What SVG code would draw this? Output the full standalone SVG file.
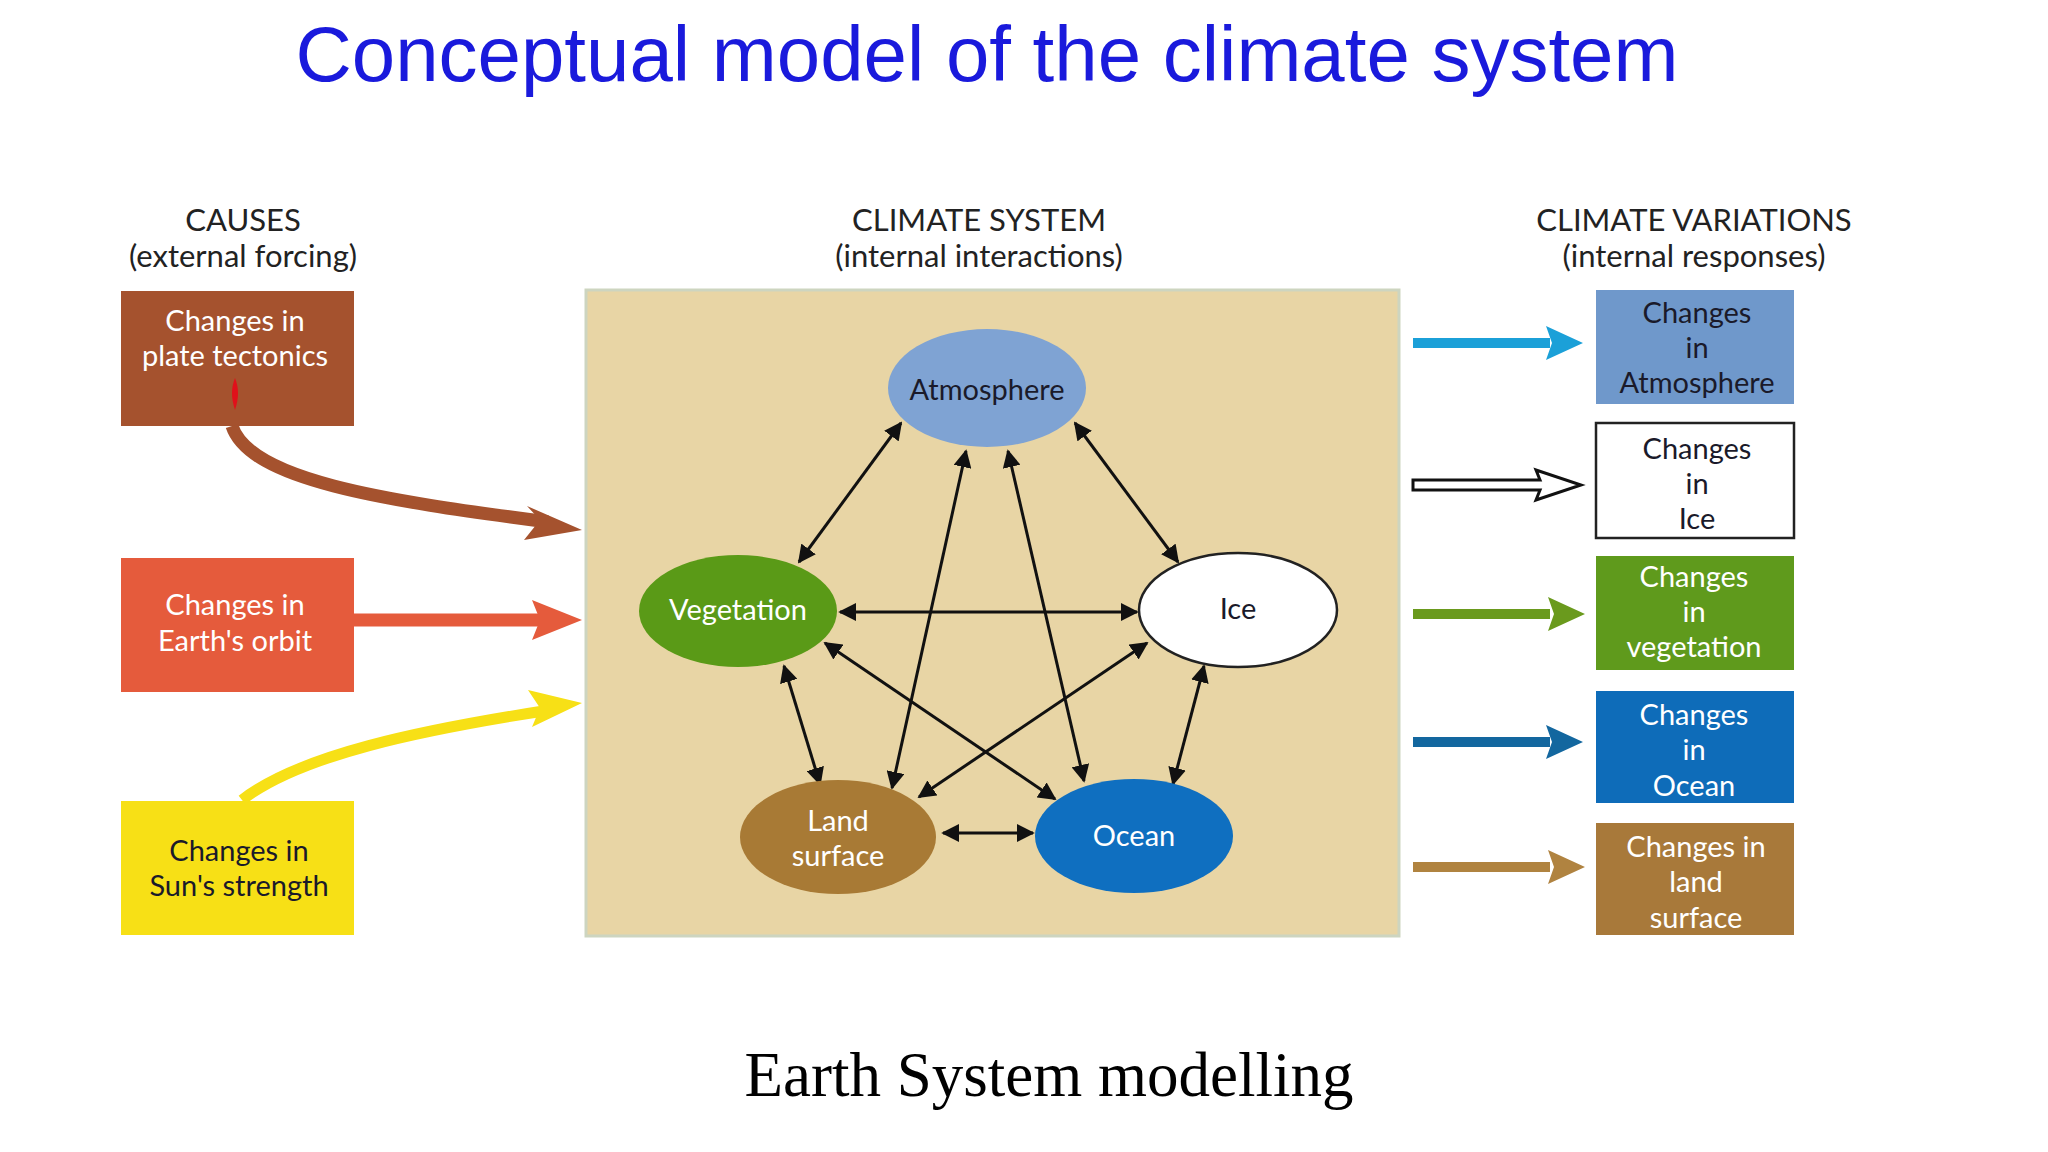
<svg xmlns="http://www.w3.org/2000/svg" width="2048" height="1152" viewBox="0 0 2048 1152">
<style>
.t{font-family:Lato,"Open Sans","Liberation Sans",sans-serif;font-size:29px;text-anchor:middle;dominant-baseline:central}
.h{font-family:Lato,"Open Sans","Liberation Sans",sans-serif;font-size:31px;text-anchor:middle;fill:#222}
.w{fill:#fff}.d{fill:#1a1a2a}
.c{stroke:#111;stroke-width:3;fill:none;marker-start:url(#ah);marker-end:url(#ah)}
</style>
<defs>
<marker id="ah" viewBox="0 0 10 10" refX="9" refY="5" markerWidth="6" markerHeight="6" orient="auto-start-reverse" markerUnits="strokeWidth"><path d="M0,0 L10,5 L0,10 z" fill="#111"/></marker>
</defs>
<rect width="2048" height="1152" fill="#fff"/>
<text x="987" y="81" font-family="Liberation Sans,Arial,sans-serif" font-size="78" fill="#1a1adc" text-anchor="middle">Conceptual model of the climate system</text>
<text class="h" x="243" y="231">CAUSES</text>
<text class="h" x="243" y="267">(external forcing)</text>
<text class="h" x="979" y="231">CLIMATE SYSTEM</text>
<text class="h" x="979" y="267">(internal interactions)</text>
<text class="h" x="1694" y="231">CLIMATE VARIATIONS</text>
<text class="h" x="1694" y="267">(internal responses)</text>

<g id="panel"><rect x="586" y="290" width="813" height="646" fill="#e8d5a5" stroke="#cdd5c0" stroke-width="3"/></g>

<g id="cause-tectonics"><rect x="121" y="291" width="233" height="135" fill="#a5522e"/>
<text class="t w" x="235" y="319">Changes in</text><text class="t w" x="235" y="354">plate tectonics</text>
<path d="M235,378 C231,388 231,398 235,410 C239,398 239,388 235,378 z" fill="#e0101a"/></g>
<g id="cause-orbit"><rect x="121" y="558" width="233" height="134" fill="#e55b3c"/>
<text class="t w" x="235" y="603">Changes in</text><text class="t w" x="235" y="639">Earth's orbit</text></g>
<g id="cause-sun"><rect x="121" y="801" width="233" height="134" fill="#f7e016"/>
<text class="t d" x="239" y="849">Changes in</text><text class="t d" x="239" y="884">Sun's strength</text></g>

<g id="connectors">
<path d="M232,426 C250,480 380,500 548,522" stroke="#a5522e" stroke-width="13" fill="none"/>
<path d="M582,530 L527,506 L540,520 L524,540 z" fill="#a5522e"/>
<path d="M354,620 L548,620" stroke="#e55b3c" stroke-width="13"/>
<path d="M582,620 L532,600 L540,620 L532,640 z" fill="#e55b3c"/>
<path d="M242,800 C300,755 420,730 550,710" stroke="#f7e016" stroke-width="11" fill="none"/>
<path d="M582,703 L528,690 L540,708 L532,727 z" fill="#f7e016"/>

<path class="c" d="M901,423 L799,562"/>
<path class="c" d="M1075,423 L1178,562"/>
<path class="c" d="M966,451 L892,788"/>
<path class="c" d="M1008,451 L1084,781"/>
<path class="c" d="M840,612 L1137,612"/>
<path class="c" d="M825,643 L1055,799"/>
<path class="c" d="M1147,643 L919,797"/>
<path class="c" d="M784,666 L820,784"/>
<path class="c" d="M1204,666 L1173,784"/>
<path class="c" d="M943,833 L1033,833"/>

<path d="M1413,343 L1550,343" stroke="#1ba0d8" stroke-width="10"/><path d="M1583,343 L1546,326 L1552,343 L1546,360 z" fill="#1ba0d8"/>
<path d="M1413,480 L1540,480 L1536,470 L1581,485 L1536,500 L1540,490 L1413,490 z" fill="#fff" stroke="#111" stroke-width="3"/>
<path d="M1413,614 L1550,614" stroke="#6a9a1d" stroke-width="10"/><path d="M1585,614 L1548,597 L1554,614 L1548,631 z" fill="#6a9a1d"/>
<path d="M1413,742 L1550,742" stroke="#13679f" stroke-width="10"/><path d="M1583,742 L1546,725 L1552,742 L1546,759 z" fill="#13679f"/>
<path d="M1413,867 L1550,867" stroke="#b08340" stroke-width="10"/><path d="M1585,867 L1548,850 L1554,867 L1548,884 z" fill="#b08340"/>
</g>

<g id="atmosphere"><ellipse cx="987" cy="388" rx="99" ry="59" fill="#7fa3d3"/><text class="t d" x="987" y="388">Atmosphere</text></g>
<g id="vegetation"><ellipse cx="738" cy="611" rx="99" ry="56" fill="#5a9a17"/><text class="t w" x="738" y="608">Vegetation</text></g>
<g id="ice"><ellipse cx="1238" cy="610" rx="99" ry="57" fill="#fff" stroke="#222" stroke-width="2.5"/><text class="t d" x="1238" y="607">Ice</text></g>
<g id="land"><ellipse cx="838" cy="837" rx="98" ry="57" fill="#a87a35"/><text class="t w" x="838" y="819">Land</text><text class="t w" x="838" y="854">surface</text></g>
<g id="ocean"><ellipse cx="1134" cy="836" rx="99" ry="57" fill="#0f6fc0"/><text class="t w" x="1134" y="834">Ocean</text></g>

<g id="resp-atm"><rect x="1596" y="290" width="198" height="114" fill="#6f98cb"/>
<text class="t d" x="1697" y="311">Changes</text><text class="t d" x="1697" y="346">in</text><text class="t d" x="1697" y="381">Atmosphere</text></g>
<g id="resp-ice"><rect x="1596" y="423" width="198" height="115" fill="#fff" stroke="#222" stroke-width="2.5"/>
<text class="t d" x="1697" y="447">Changes</text><text class="t d" x="1697" y="482">in</text><text class="t d" x="1697" y="517">Ice</text></g>
<g id="resp-veg"><rect x="1596" y="556" width="198" height="114" fill="#5f9a1c"/>
<text class="t w" x="1694" y="575">Changes</text><text class="t w" x="1694" y="610">in</text><text class="t w" x="1694" y="645">vegetation</text></g>
<g id="resp-ocean"><rect x="1596" y="691" width="198" height="112" fill="#0e6cb9"/>
<text class="t w" x="1694" y="713">Changes</text><text class="t w" x="1694" y="748">in</text><text class="t w" x="1694" y="784">Ocean</text></g>
<g id="resp-land"><rect x="1596" y="823" width="198" height="112" fill="#a8793a"/>
<text class="t w" x="1696" y="845">Changes in</text><text class="t w" x="1696" y="880">land</text><text class="t w" x="1696" y="916">surface</text></g>

<text x="1049" y="1096" font-family="Liberation Serif,serif" font-size="63" fill="#000" text-anchor="middle">Earth System modelling</text>
</svg>
